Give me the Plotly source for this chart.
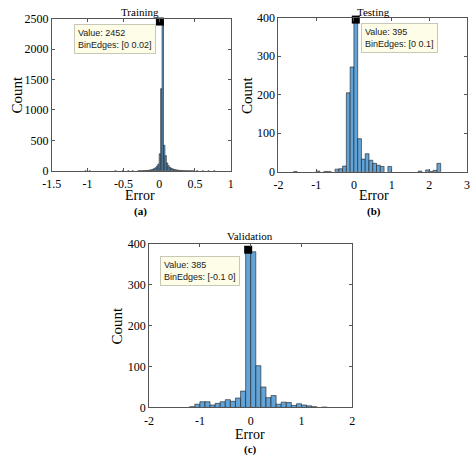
import plotly.graph_objects as go

W, H = 474, 461

# ---------------- data ----------------
# Training: bin width 0.02, contiguous core bins start at -0.30
train_width = 0.02
train_start = -0.30
train_counts = [2, 3, 3, 4, 5, 6, 8, 10, 12, 18, 25, 35, 50, 75, 110, 280, 1350, 2452, 420, 250,
                130, 85, 55, 42, 32, 24, 18, 14, 11, 8, 6, 5, 4, 3, 3, 2, 2, 2, 1, 1]
train_out_lefts = [-1.04, -0.98, -0.62, -0.52, -0.44, -0.38, 0.52, 0.60, 0.68, 0.76]
train_out_counts = [2, 2, 3, 2, 3, 3, 3, 2, 2, 2]

# Testing: bin width 0.1
test_width = 0.1
test_lefts = [-1.6, -1.0, -0.8, -0.7, -0.5, -0.4, -0.3, -0.2, -0.1, 0.0, 0.1, 0.2, 0.3, 0.4,
              0.5, 0.6, 0.7, 0.9, 1.7, 1.9, 2.0, 2.1, 2.2]
test_counts = [1, 2, 1, 1, 7, 8, 15, 205, 272, 395, 86, 33, 47, 30,
               22, 17, 14, 14, 2, 5, 1, 4, 22]

# Validation: bin width 0.1
val_width = 0.1
val_lefts = [-1.2, -1.1, -1.0, -0.9, -0.8, -0.7, -0.6, -0.5, -0.4, -0.3, -0.2, -0.1, 0.0,
             0.1, 0.2, 0.3, 0.4, 0.5, 0.6, 0.7, 0.8, 0.9, 1.0, 1.1, 1.2, 1.4]
val_counts = [2, 8, 14, 14, 6, 10, 14, 19, 15, 23, 40, 385, 380,
              102, 50, 24, 29, 8, 13, 12, 5, 9, 6, 4, 2, 1]

panels = [
    dict(name="a", title="Training", lefts=[train_start + i * train_width for i in range(len(train_counts))] + train_out_lefts,
         counts=train_counts + train_out_counts, width=train_width,
         tip_left=0.0, tip_count=2452, tip_text="Value: 2452<br>BinEdges: [0 0.02]",
         xrange=[-1.5, 1], xticks=[-1.5, -1, -0.5, 0, 0.5, 1], xticktext=["-1.5", "-1", "-0.5", "0", "0.5", "1"],
         yrange=[0, 2500], yticks=[0, 500, 1000, 1500, 2000, 2500],
         box=(43, 227, 12, 169), tipbox=(66, 18), count_x=7, label_x=134, title_y=5,
         err_y=194, lab_y=211),
    dict(name="b", title="Testing", lefts=test_lefts, counts=test_counts, width=test_width,
         tip_left=0.0, tip_count=395, tip_text="Value: 395<br>BinEdges: [0 0.1]",
         xrange=[-2, 3], xticks=[-2, -1, 0, 1, 2, 3], xticktext=["-2", "-1", "0", "1", "2", "3"],
         yrange=[0, 400], yticks=[0, 100, 200, 300, 400],
         box=(276, 470, 11, 170), tipbox=(361, 17), count_x=243, label_x=374, title_y=5,
         err_y=194, lab_y=211),
    dict(name="c", title="Validation", lefts=val_lefts, counts=val_counts, width=val_width,
         tip_left=-0.1, tip_count=385, tip_text="Value: 385<br>BinEdges: [-0.1 0]",
         xrange=[-2, 2], xticks=[-2, -1, 0, 1, 2], xticktext=["-2", "-1", "0", "1", "2"],
         yrange=[0, 400], yticks=[0, 100, 200, 300, 400],
         box=(143, 352, 244, 413), tipbox=(154, 257), count_x=110, label_x=247, title_y=236,
         err_y=441, lab_y=456),
]

SERIF = "Liberation Serif"
SANS = "Liberation Sans"
BAR = "#62a3d8"
EDGE = "#1c1c1c"
AXC = "#555555"

fig = go.Figure()
layout = dict(width=W, height=H, margin=dict(l=0, r=0, t=0, b=0),
              paper_bgcolor="white", plot_bgcolor="white", showlegend=False,
              annotations=[])

def px(x):
    return x / W

def py(y):
    return 1 - y / H

for i, p in enumerate(panels):
    sx = "" if i == 0 else str(i + 1)
    xa, ya = "x" + sx, "y" + sx
    centers = [l + p["width"] / 2 for l in p["lefts"]]
    fig.add_trace(go.Bar(x=centers, y=p["counts"], width=p["width"], xaxis=xa, yaxis=ya,
                         marker=dict(color=BAR, line=dict(color=EDGE, width=0.6)),
                         hoverinfo="skip"))
    fig.add_trace(go.Scatter(x=[p["tip_left"] + p["width"] / 2], y=[p["tip_count"]], mode="markers",
                             xaxis=xa, yaxis=ya, cliponaxis=False,
                             marker=dict(symbol="square", size=8, color="black"), hoverinfo="skip"))
    x0, x1, y0, y1 = p["box"]
    axis_common = dict(showgrid=False, zeroline=False, showline=True, linecolor=AXC, linewidth=1,
                       mirror="ticks", ticks="inside", ticklen=3, tickcolor=AXC,
                       tickfont=dict(family=SERIF, size=12, color="black"))
    layout["xaxis" + sx] = dict(axis_common, domain=[px(x0), px(x1)], range=p["xrange"],
                                tickvals=p["xticks"], ticktext=p["xticktext"], anchor=ya,
                                ticklabelstandoff=2)
    layout["yaxis" + sx] = dict(axis_common, domain=[py(y1), py(y0)], range=p["yrange"],
                                tickvals=p["yticks"], anchor=xa)
    anns = layout["annotations"]
    cm = dict(xref="paper", yref="paper", xanchor="center", yanchor="middle", showarrow=False)
    anns.append(dict(cm, x=px(p["label_x"]), y=py(p["title_y"]),
                     text=p["title"], font=dict(family=SERIF, size=11, color="black")))
    anns.append(dict(cm, x=px(p["label_x"]), y=py(p["err_y"]),
                     text="Error", font=dict(family=SERIF, size=14, color="black")))
    anns.append(dict(cm, x=px(p["label_x"]), y=py(p["lab_y"]),
                     text="<b>(" + p["name"] + ")</b>",
                     font=dict(family=SERIF, size=11, color="black")))
    anns.append(dict(cm, x=px(p["count_x"]), y=py((y0 + y1) / 2),
                     text="Count", textangle=-90,
                     font=dict(family=SERIF, size=15, color="black")))
    tx, ty = p["tipbox"]
    anns.append(dict(x=px(tx), y=py(ty), xref="paper", yref="paper", xanchor="left", yanchor="top",
                     text=p["tip_text"], align="left", showarrow=False,
                     bgcolor="#fdfde8", bordercolor="#c8c8b8", borderwidth=1, borderpad=3,
                     font=dict(family=SANS, size=9, color="#222")))

fig.update_layout(**layout)
fig.write_html("out.html")
